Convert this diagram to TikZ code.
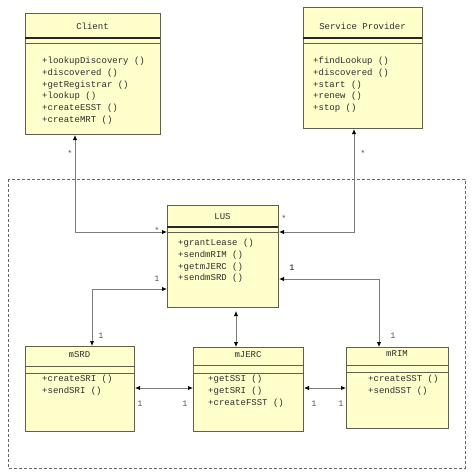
\documentclass[tikz,border=0pt]{standalone}
\usepackage{fontspec}
\setmonofont{Liberation Mono}
\usetikzlibrary{arrows.meta}
\definecolor{boxfill}{RGB}{255,255,204}
\definecolor{boxline}{RGB}{95,95,75}
\definecolor{conn}{RGB}{125,125,125}
\definecolor{txt}{RGB}{45,45,45}
\tikzset{
  umlbox/.style={draw=boxline, line width=1pt, fill=boxfill, anchor=north west, inner sep=0pt},
  sepA/.style={draw=black!85, line width=1.4pt},
  sepB/.style={draw=boxline, line width=0.8pt},
  ttl/.style={font=\ttfamily\fontsize{9}{11.7}\selectfont, text=txt, inner sep=0pt},
  meth/.style={font=\ttfamily\fontsize{9}{11.7}\selectfont, text=txt, align=left, anchor=north west, inner sep=0pt},
  mult/.style={font=\ttfamily\fontsize{8.5}{10}\selectfont, text=txt!80, inner sep=0pt},
  link/.style={draw=conn, line width=0.9pt, {Latex[length=5pt,width=4.5pt,black]}-{Latex[length=5pt,width=4.5pt,black]}},
  frame/.style={draw=black!60, line width=0.8pt, dash pattern=on 3pt off 2pt}
}
\begin{document}
\begin{tikzpicture}[x=1pt,y=-1pt]
\useasboundingbox (0,0) rectangle (474,474);
% dashed boundary
\draw[frame] (8,179) rectangle (465,468);

% Client
\node[umlbox, minimum width=135pt, minimum height=121pt] (client) at (25,13) {};
\draw[sepA] (25,38) -- (160,38);
\draw[sepB] (25,43) -- (160,43);
\node[ttl] (clientT) at (92.5,26) {Client};
\node[meth] (clientM) at (42,57) {+lookupDiscovery ()\\+discovered ()\\+getRegistrar ()\\+lookup ()\\+createESST ()\\+createMRT ()};

% Service Provider
\node[umlbox, minimum width=119pt, minimum height=121pt] (sp) at (303,7) {};
\draw[sepA] (303,38) -- (422,38);
\draw[sepB] (303,43) -- (422,43);
\node[ttl] (spT) at (362.5,26) {Service Provider};
\node[meth] (spM) at (313,57) {+findLookup ()\\+discovered ()\\+start ()\\+renew ()\\+stop ()};

% LUS
\node[umlbox, minimum width=111pt, minimum height=102pt] (lus) at (167,205) {};
\draw[sepA] (167,227) -- (278,227);
\draw[sepB] (167,232) -- (278,232);
\node[ttl] (lusT) at (222.5,217) {LUS};
\node[meth] (lusM) at (178,239) {+grantLease ()\\+sendmRIM ()\\+getmJERC ()\\+sendmSRD ()};

% mSRD
\node[umlbox, minimum width=109pt, minimum height=85pt] (msrd) at (25,346) {};
\draw[sepB] (25,366) -- (134,366);
\draw[sepB] (25,373) -- (134,373);
\node[ttl] (msrdT) at (79.5,355) {mSRD};
\node[meth] (msrdM) at (42,375) {+createSRI ()\\+sendSRI ()};

% mJERC
\node[umlbox, minimum width=110pt, minimum height=84pt] (mjerc) at (193,347) {};
\draw[sepB] (193,365) -- (303,365);
\draw[sepB] (193,373) -- (303,373);
\node[ttl] (mjercT) at (248,355) {mJERC};
\node[meth] (mjercM) at (208,375) {+getSSI ()\\+getSRI ()\\+createFSST ()};

% mRIM
\node[umlbox, minimum width=102pt, minimum height=81pt] (mrim) at (346,347) {};
\draw[sepB] (346,365) -- (448,365);
\draw[sepB] (346,372) -- (448,372);
\node[ttl] (mrimT) at (397,354) {mRIM};
\node[meth] (mrimM) at (368,375) {+createSST ()\\+sendSST ()};

% connectors
\coordinate (cA) at (75,232);
\coordinate (cB) at (354,232);
\coordinate (cC) at (92,289);
\coordinate (cD) at (379,279);
\coordinate (cE) at (236,388);
\draw[link] (client.south -| cA) -- (cA) -- (lus.west |- cA);
\draw[link] (sp.south -| cB) -- (cB) -- (lus.east |- cB);
\draw[link] (msrd.north -| cC) -- (cC) -- (lus.west |- cC);
\draw[link] (mrim.north -| cD) -- (cD) -- (lus.east |- cD);
\draw[link] ([yshift=-3pt]lus.south -| cE) -- (mjerc.north -| cE);
\draw[link] (msrd.east |- cE) -- (mjerc.west |- cE);
\draw[link] (mjerc.east |- cE) -- (mrim.west |- cE);

% multiplicities
\node[mult] (m1) at (70,153) {*};
\node[mult] (m2) at (157,230) {*};
\node[mult] (m3) at (363,153) {*};
\node[mult] (m4) at (284,218) {*};
\node[mult] (m5) at (157,279) {1};
\node[mult] (m6) at (101,336) {1};
\node[mult, font=\ttfamily\bfseries\fontsize{8.5}{10}\selectfont] (m7) at (292,268) {1};
\node[mult] (m8) at (393,336) {1};
\node[mult] (m9) at (140,404) {1};
\node[mult] (m10) at (185,404) {1};
\node[mult] (m11) at (314,404) {1};
\node[mult] (m12) at (341,404) {1};
\end{tikzpicture}
\end{document}
